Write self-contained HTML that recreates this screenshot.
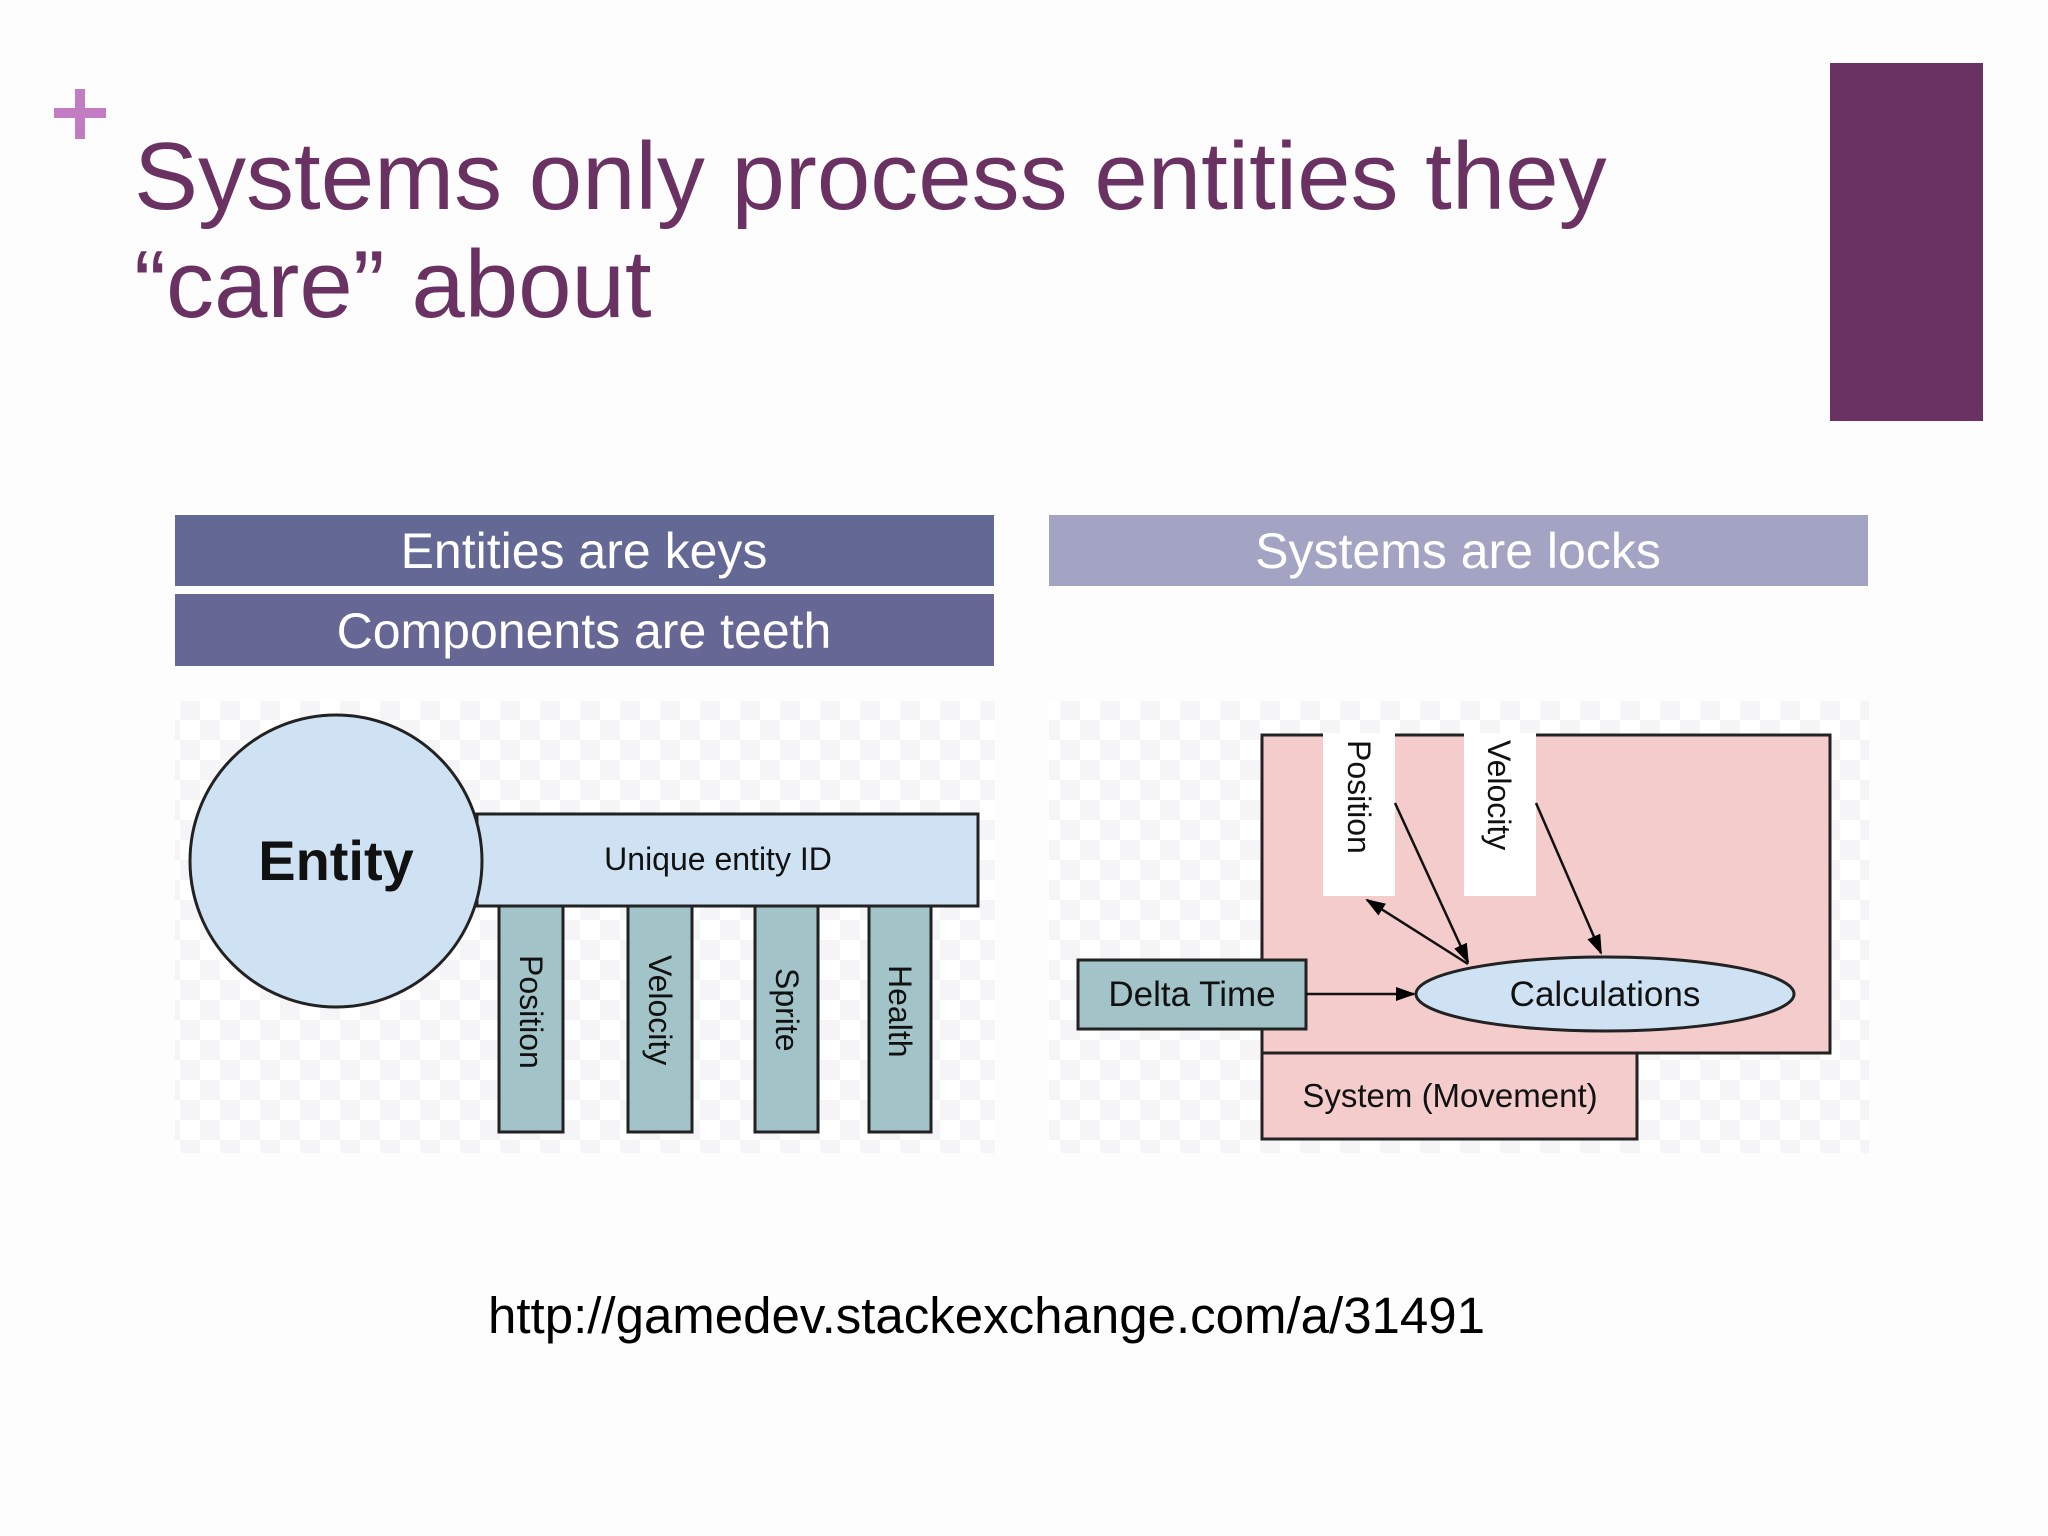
<!DOCTYPE html>
<html><head><meta charset="utf-8"><style>
html,body{margin:0;padding:0;background:#fdfdfe}
svg{display:block}
</style></head><body>
<svg width="2048" height="1536" viewBox="0 0 2048 1536" xmlns="http://www.w3.org/2000/svg" font-family="Liberation Sans, sans-serif">
<defs>
<pattern id="chk" width="40" height="40" patternUnits="userSpaceOnUse">
<rect width="40" height="40" fill="#ffffff"/>
<rect width="20" height="20" fill="#f5f5f7"/>
<rect x="20" y="20" width="20" height="20" fill="#f5f5f7"/>
</pattern>
<marker id="ah" markerWidth="10" markerHeight="10" refX="9" refY="5" orient="auto" markerUnits="userSpaceOnUse" viewBox="0 0 10 10">
<path d="M0,1 L10,5 L0,9 z" fill="#000"/>
</marker>
<marker id="ah2" markerWidth="20" markerHeight="14" refX="18" refY="7" orient="auto" markerUnits="userSpaceOnUse">
<path d="M0,0 L20,7 L0,14 z" fill="#000"/>
</marker>
</defs>
<rect width="2048" height="1536" fill="#fdfdfe"/>
<!-- plus -->
<rect x="54" y="108" width="52" height="10" fill="#c17cc3"/>
<rect x="75" y="89" width="10" height="50" fill="#c17cc3"/>
<!-- purple bar -->
<rect x="1830" y="63" width="153" height="358" fill="#693262"/>
<!-- title -->
<text x="134" y="209" font-size="96" fill="#6a3163">Systems only process entities they</text>
<text x="134" y="317" font-size="96" fill="#6a3163">“care” about</text>
<!-- headers -->
<rect x="175" y="515" width="819" height="71" fill="#636895"/>
<text x="584" y="568" font-size="50" fill="#fff" text-anchor="middle">Entities are keys</text>
<rect x="175" y="594" width="819" height="72" fill="#676796"/>
<text x="584" y="648" font-size="50" fill="#fff" text-anchor="middle">Components are teeth</text>
<rect x="1049" y="515" width="819" height="71" fill="#a3a4c3"/>
<text x="1458" y="568" font-size="50" fill="#fff" text-anchor="middle">Systems are locks</text>
<!-- checker backgrounds -->
<rect x="175" y="701" width="820" height="452" fill="url(#chk)"/>
<rect x="1049" y="701" width="820" height="452" fill="url(#chk)"/>
<!-- left diagram -->
<rect x="477" y="814" width="501" height="92" fill="#cfe2f3" stroke="#222" stroke-width="3"/>
<circle cx="336" cy="861" r="146" fill="#cfe2f3" stroke="#222" stroke-width="3"/>
<text x="336" y="880" font-size="56" font-weight="bold" text-anchor="middle" fill="#111">Entity</text>
<text x="718" y="870" font-size="32" text-anchor="middle" fill="#111">Unique entity ID</text>
<g fill="#a2c4c9" stroke="#222" stroke-width="3">
<rect x="499" y="906" width="64" height="226"/>
<rect x="628" y="906" width="64" height="226"/>
<rect x="755" y="906" width="63" height="226"/>
<rect x="869" y="906" width="62" height="226"/>
</g>
<g font-size="32" fill="#111">
<text transform="translate(520,955) rotate(90)">Position</text>
<text transform="translate(649,955) rotate(90)">Velocity</text>
<text transform="translate(776,968) rotate(90)">Sprite</text>
<text transform="translate(889,965) rotate(90)">Health</text>
</g>
<!-- right diagram -->
<rect x="1262" y="735" width="568" height="318" fill="#f4cccc" stroke="#222" stroke-width="3"/>
<rect x="1323" y="733" width="72" height="163" fill="#fff"/>
<rect x="1464" y="733" width="72" height="163" fill="#fff"/>
<g font-size="32" fill="#111">
<text transform="translate(1348,740) rotate(90)">Position</text>
<text transform="translate(1488,740) rotate(90)">Velocity</text>
</g>
<rect x="1262" y="1053" width="375" height="86" fill="#f4cccc" stroke="#222" stroke-width="3"/>
<text x="1450" y="1107" font-size="33" text-anchor="middle" fill="#111">System (Movement)</text>
<rect x="1078" y="960" width="228" height="69" fill="#a2c4c9" stroke="#222" stroke-width="3"/>
<text x="1192" y="1006" font-size="35" text-anchor="middle" fill="#111">Delta Time</text>
<ellipse cx="1605" cy="994" rx="189" ry="37" fill="#cfe2f3" stroke="#222" stroke-width="3"/>
<text x="1605" y="1006" font-size="35" text-anchor="middle" fill="#111">Calculations</text>
<g stroke="#111" stroke-width="2.5" fill="none">
<line x1="1395" y1="803" x2="1468" y2="962" marker-end="url(#ah2)"/>
<line x1="1468" y1="964" x2="1367" y2="900" marker-end="url(#ah2)"/>
<line x1="1536" y1="803" x2="1601" y2="953" marker-end="url(#ah2)"/>
<line x1="1306" y1="994" x2="1414" y2="994" marker-end="url(#ah2)"/>
</g>
<!-- url -->
<text x="488" y="1333" font-size="51" fill="#000">http://gamedev.stackexchange.com/a/31491</text>
</svg>
</body></html>
